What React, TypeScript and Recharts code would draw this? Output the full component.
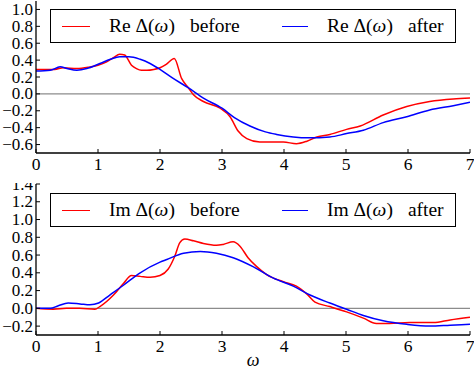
import React from 'react';
import { LineChart, Line, XAxis, YAxis, ReferenceLine, Legend } from 'recharts';

// omega grid + values
const RE_BEFORE_X = [0, 0.2, 0.3, 0.44, 0.66, 0.87, 1.0, 1.14, 1.25, 1.35, 1.43, 1.54, 1.62, 1.7, 1.79, 1.9, 2.0, 2.1, 2.23, 2.35, 2.46, 2.54, 2.7, 2.97, 3.13, 3.26, 3.4, 3.61, 3.8, 3.99, 4.2, 4.37, 4.53, 4.74, 5.01, 5.23, 5.6, 5.98, 6.35, 6.73, 7.0];
const RE_BEFORE_Y = [0.29, 0.29, 0.29, 0.31, 0.3, 0.32, 0.34, 0.38, 0.43, 0.47, 0.46, 0.34, 0.3, 0.28, 0.28, 0.29, 0.31, 0.35, 0.42, 0.18, 0.07, -0.01, -0.09, -0.17, -0.27, -0.44, -0.53, -0.57, -0.57, -0.57, -0.59, -0.56, -0.51, -0.48, -0.42, -0.38, -0.25, -0.15, -0.09, -0.06, -0.05];
const RE_AFTER_X = [0, 0.23, 0.39, 0.5, 0.66, 0.82, 1.03, 1.2, 1.35, 1.5, 1.68, 1.84, 2.0, 2.2, 2.46, 2.7, 3.0, 3.2, 3.45, 3.7, 3.88, 4.15, 4.4, 4.74, 5.01, 5.28, 5.6, 5.98, 6.35, 6.73, 7.0];
const RE_AFTER_Y = [0.27, 0.28, 0.32, 0.3, 0.28, 0.3, 0.36, 0.41, 0.44, 0.44, 0.41, 0.36, 0.29, 0.19, 0.07, -0.05, -0.17, -0.28, -0.38, -0.45, -0.48, -0.51, -0.52, -0.51, -0.47, -0.43, -0.34, -0.27, -0.19, -0.14, -0.1];

const IM_BEFORE_X = [0, 0.28, 0.49, 0.7, 0.95, 1.03, 1.25, 1.41, 1.54, 1.68, 1.84, 2.0, 2.13, 2.24, 2.32, 2.4, 2.54, 2.7, 2.91, 3.02, 3.18, 3.29, 3.42, 3.56, 3.72, 3.99, 4.2, 4.37, 4.5, 4.74, 5.01, 5.28, 5.49, 5.7, 6.03, 6.41, 6.68, 7.0];
const IM_BEFORE_Y = [0, -0.01, 0, 0, -0.01, 0.02, 0.15, 0.28, 0.37, 0.36, 0.35, 0.37, 0.44, 0.59, 0.74, 0.78, 0.76, 0.73, 0.71, 0.72, 0.75, 0.7, 0.57, 0.47, 0.38, 0.3, 0.25, 0.16, 0.07, 0.02, -0.04, -0.11, -0.17, -0.17, -0.16, -0.16, -0.13, -0.1];
const IM_AFTER_X = [0, 0.23, 0.36, 0.52, 0.71, 0.87, 1.01, 1.19, 1.41, 1.68, 2.0, 2.11, 2.38, 2.65, 2.91, 3.18, 3.5, 3.83, 4.15, 4.42, 4.74, 5.01, 5.28, 5.6, 5.98, 6.35, 6.68, 7.0];
const IM_AFTER_Y = [0, 0, 0.03, 0.06, 0.05, 0.04, 0.06, 0.15, 0.26, 0.4, 0.52, 0.55, 0.62, 0.64, 0.62, 0.57, 0.47, 0.34, 0.25, 0.15, 0.06, -0.01, -0.08, -0.14, -0.18, -0.2, -0.19, -0.18];

const X_TICKS = [0, 1, 2, 3, 4, 5, 6, 7];
const RE_Y_TICKS = [-0.6, -0.4, -0.2, 0, 0.2, 0.4, 0.6, 0.8, 1.0];
const IM_Y_TICKS = [-0.2, 0, 0.2, 0.4, 0.6, 0.8, 1.0, 1.2, 1.4];

const FONT = '"Liberation Serif", "DejaVu Serif", serif';
const TICK_LEN = 4;

const toPoints = (xs: number[], ys: number[]) => xs.map((w, i) => ({ w, v: ys[i] }));
const fmt = (v: number) => (Math.abs(v) < 1e-9 ? '0.0' : v.toFixed(1).replace('-', '\u2212'));

// matplotlib-style ticks: marks point into the plot, labels outside
const LeftTick = ({ x, y, payload }: any) => (
  <g>
    <line x1={x} x2={x + TICK_LEN} y1={y} y2={y} stroke="#000" />
    <text x={x - 3} y={y} dy={5.5} textAnchor="end" fontSize={17} fontFamily={FONT} fill="#000">
      {fmt(payload.value)}
    </text>
  </g>
);
const RightTick = ({ x, y }: any) => <line x1={x} x2={x - TICK_LEN} y1={y} y2={y} stroke="#000" />;
const TopTick = ({ x, y }: any) => <line x1={x} x2={x} y1={y} y2={y + TICK_LEN} stroke="#000" />;
const BottomTick = ({ x, y, payload }: any) => (
  <g>
    <line x1={x} x2={x} y1={y} y2={y - TICK_LEN} stroke="#000" />
    <text x={x} y={y + 17} textAnchor="middle" fontSize={17.5} fontFamily={FONT} fill="#000">
      {payload.value}
    </text>
  </g>
);

function LegendBox({ prefix }: { prefix: string }) {
  const label = (tag: string) => (
    <span style={{ whiteSpace: 'pre' }}>
      {prefix} Δ(<span style={{ fontStyle: 'italic' }}>ω</span>)<span style={{ marginLeft: 15 }}>{tag}</span>
    </span>
  );
  const txt: React.CSSProperties = { position: 'absolute', top: 0, lineHeight: '31px', fontSize: 19.5, fontFamily: FONT, color: '#000' };
  return (
    <div style={{ position: 'relative', width: 406, height: 34, boxSizing: 'border-box', border: '1.5px solid #000', background: '#fff' }}>
      <div style={{ position: 'absolute', left: 11, top: 15.5, width: 28, height: 1.5, background: '#ff0000' }} />
      <div style={{ ...txt, left: 58 }}>{label('before')}</div>
      <div style={{ position: 'absolute', left: 231, top: 15.5, width: 26, height: 1.5, background: '#0000ff' }} />
      <div style={{ ...txt, left: 276 }}>{label('after')}</div>
    </div>
  );
}

function Panel({
  before,
  after,
  yDomain,
  yTicks,
  prefix,
  height,
  xAxisHeight,
  legendTop,
  showXLabel,
}: {
  before: { w: number; v: number }[];
  after: { w: number; v: number }[];
  yDomain: [number, number];
  yTicks: number[];
  prefix: string;
  height: number;
  xAxisHeight: number;
  legendTop: number;
  showXLabel?: boolean;
}) {
  return (
    <LineChart width={474} height={height} margin={{ top: 1, right: 4, bottom: 0, left: 0 }}>
      <XAxis
        xAxisId="b"
        dataKey="w"
        type="number"
        domain={[0, 7]}
        ticks={X_TICKS}
        interval={0}
        allowDataOverflow
        height={xAxisHeight}
        tickSize={0}
        tickMargin={0}
        tick={<BottomTick />}
        axisLine={{ stroke: '#000', strokeWidth: 1.3 }}
        label={showXLabel ? { value: 'ω', position: 'insideBottom', offset: 0, fontSize: 18, fontStyle: 'italic', fontFamily: FONT, fill: '#000' } : undefined}
      />
      <XAxis xAxisId="t" orientation="top" type="number" domain={[0, 7]} ticks={X_TICKS} interval={0} height={0} tickSize={0} tickMargin={0} tick={<TopTick />} axisLine={{ stroke: '#000', strokeWidth: 1.3 }} />
      <YAxis yAxisId="l" type="number" domain={yDomain} ticks={yTicks} interval={0} allowDataOverflow width={36} tickSize={0} tickMargin={0} tick={<LeftTick />} axisLine={{ stroke: '#000', strokeWidth: 1.3 }} />
      <YAxis yAxisId="r" orientation="right" type="number" domain={yDomain} ticks={yTicks} interval={0} allowDataOverflow width={0} tickSize={0} tickMargin={0} tick={<RightTick />} axisLine={{ stroke: '#000', strokeWidth: 1.3 }} />
      <ReferenceLine xAxisId="b" yAxisId="l" y={0} stroke="#8c8c8c" strokeWidth={1.2} />
      <Line xAxisId="b" yAxisId="l" data={before} dataKey="v" type="monotone" stroke="#ff0000" strokeWidth={1.5} dot={false} isAnimationActive={false} />
      <Line xAxisId="b" yAxisId="l" data={after} dataKey="v" type="monotone" stroke="#0000ff" strokeWidth={1.5} dot={false} isAnimationActive={false} />
      <Legend
        layout="horizontal"
        verticalAlign="middle"
        align="center"
        wrapperStyle={{ top: legendTop, left: 50, width: 406, height: 34 }}
        content={() => <LegendBox prefix={prefix} />}
      />
    </LineChart>
  );
}

export default function App() {
  return (
    <div style={{ position: 'absolute', left: 0, top: 0, width: 474, height: 366, background: '#fff', overflow: 'hidden' }}>
      <Panel
        before={toPoints(RE_BEFORE_X, RE_BEFORE_Y)}
        after={toPoints(RE_AFTER_X, RE_AFTER_Y)}
        yDomain={[-0.7, 1.1]}
        yTicks={RE_Y_TICKS}
        prefix="Re"
        height={183}
        xAxisHeight={30}
        legendTop={9}
      />
      <Panel
        before={toPoints(IM_BEFORE_X, IM_BEFORE_Y)}
        after={toPoints(IM_AFTER_X, IM_AFTER_Y)}
        yDomain={[-0.3, 1.4]}
        yTicks={IM_Y_TICKS}
        prefix="Im"
        height={183}
        xAxisHeight={31}
        legendTop={10}
        showXLabel
      />
    </div>
  );
}
